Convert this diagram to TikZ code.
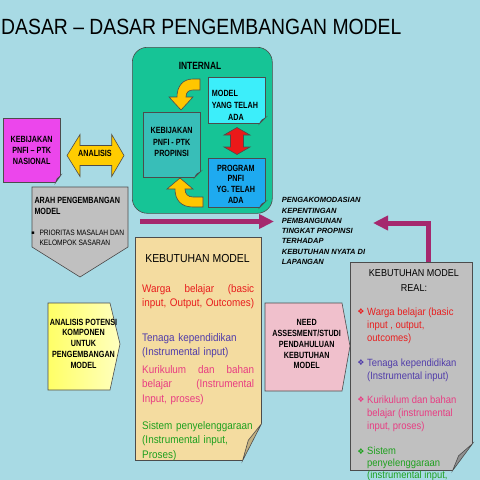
\documentclass[tikz,border=0pt]{standalone}
\usepackage{fontspec}
\setmainfont{Liberation Sans}
\newfontface\titlefont[FakeStretch=0.88]{Liberation Sans}
\newfontface\lblfont[FakeStretch=0.8]{Liberation Sans Bold}
\newfontface\bodyfont[FakeStretch=0.9]{Liberation Sans}
\newfontface\smallfont[FakeStretch=0.85]{Liberation Sans}
\newfontface\itfont{Liberation Sans Bold Italic}
\newfontfamily\symfont{DejaVu Sans}
\usetikzlibrary{arrows.meta,calc}

\definecolor{bgcol}{RGB}{168,218,228}
\definecolor{greenbox}{RGB}{22,196,150}
\definecolor{cyanbox}{RGB}{60,238,250}
\definecolor{tealbox}{RGB}{56,190,184}
\definecolor{bluebox}{RGB}{30,170,240}
\definecolor{magbox}{RGB}{236,70,236}
\definecolor{greybox}{RGB}{192,192,192}
\definecolor{parch}{RGB}{244,220,160}
\definecolor{pinkbox}{RGB}{240,192,204}
\definecolor{gold}{RGB}{255,198,0}
\definecolor{redarrow}{RGB}{235,25,25}
\definecolor{plum}{RGB}{165,40,110}
\definecolor{txtred}{RGB}{232,30,30}
\definecolor{txtblue}{RGB}{80,60,170}
\definecolor{txtpink}{RGB}{232,60,130}
\definecolor{txtgreen}{RGB}{30,160,30}

% folded corner: node, width, height, colour under it, colour of the flap
\newcommand{\foldcorner}[5]{%
  \fill[#4] ($(#1.south east)+(-#2,0)$) -- ($(#1.south east)+(-#2,1)$) -- ($(#1.south east)+(1,1)$)
    -- ($(#1.south east)+(1,-#3)$) -- ($(#1.south east)+(0,-#3)$) -- cycle;
  \filldraw[fill=#5, draw=black!70, line width=0.6pt] ($(#1.south east)+(-#2,0)$)
    -- ($(#1.south east)+(-0.7*#2,-0.55*#3)$) -- ($(#1.south east)+(0,-#3)$) -- cycle;
}

\begin{document}
\begin{tikzpicture}[x=1pt,y=-1pt,
    box/.style={draw=black!70, line width=0.6pt, anchor=north west, inner sep=0pt},
    lbl/.style={font=\lblfont\fontsize{9}{10.8}\selectfont, align=center, inner sep=0pt, anchor=north},
    body/.style={font=\bodyfont\fontsize{11}{14.8}\selectfont, text width=112pt, align=left, inner sep=0pt, anchor=north west},
    realitem/.style={font=\bodyfont\fontsize{10.5}{13.3}\selectfont, align=left, inner sep=0pt, anchor=north west},
    bul/.style={font=\symfont\fontsize{8}{9}\selectfont, inner sep=0pt, anchor=base},
    conn/.style={draw=plum, line width=5pt, -{Triangle[length=15pt,width=14pt]}},
    blockshape/.style={draw=black!70, line width=0.6pt}]

  \useasboundingbox (0,0) rectangle (480,480);
  \clip (0,0) rectangle (480,480);
  \fill[bgcol] (0,0) rectangle (480,480);

  \node[anchor=base west, inner sep=0pt] (title) at (1,34)
    {\titlefont\fontsize{22}{26}\selectfont DASAR – DASAR PENGEMBANGAN MODEL};

  % connectors
  \coordinate (linestart) at (140,221.5);
  \coordinate (linetip)   at (274,221.5);
  \coordinate (realtop)   at (428,262);
  \coordinate (realtip)   at (373,223);
  \draw[conn] (linestart) -- (linetip);
  \draw[conn] (realtop) |- (realtip);

  % boxes
  \begin{scope}[every node/.style={box}]
    \node[fill=greenbox, rounded corners=15pt, minimum width=140pt, minimum height=166pt] (internal) at (132,47) {};
    \node[fill=cyanbox,  minimum width=57pt,  minimum height=46pt]  (model)    at (208,77)  {};
    \node[fill=tealbox,  minimum width=57pt,  minimum height=65pt]  (propinsi) at (143,112) {};
    \node[fill=bluebox,  minimum width=57pt,  minimum height=49pt]  (program)  at (208,158) {};
    \node[fill=magbox,   minimum width=57pt,  minimum height=64pt]  (nasional) at (3,118)   {};
    \node[fill=parch,    minimum width=126pt, minimum height=223pt] (needs)    at (135,237) {};
    \node[fill=greybox,  minimum width=122pt, minimum height=208pt] (real)     at (350,262) {};
  \end{scope}

  \foldcorner{model}{6}{6}{greenbox}{cyanbox!70!black}
  \foldcorner{propinsi}{6}{6}{greenbox}{tealbox!70!black}
  \foldcorner{program}{6}{6}{greenbox}{bluebox!70!black}
  \foldcorner{nasional}{5}{7}{bgcol}{magbox!70!black}
  \foldcorner{needs}{19}{37}{bgcol}{parch!80!black}
  \foldcorner{real}{20}{27}{bgcol}{greybox!75!black}

  % block arrows and pentagons
  \filldraw[blockshape, fill=gold] (200,79) -- (193,79) .. controls (183,79) and (177,86) .. (177,97)
    -- (169,97) -- (181,110) -- (193,97) -- (186,97) .. controls (186,92) and (189,90) .. (193,90)
    -- (200,90) -- cycle;
  \filldraw[blockshape, fill=gold] (203,207) -- (193,207) .. controls (181,207) and (175,200) .. (175,189)
    -- (167,189) -- (180,178) -- (193,189) -- (185,189) .. controls (185,194) and (188,197) .. (193,197)
    -- (203,197) -- cycle;
  \filldraw[blockshape, fill=redarrow] (237,127.5) -- (250,135) -- (243.5,135) -- (243.5,147) -- (250,147)
    -- (237,154.5) -- (224,147) -- (230.5,147) -- (230.5,135) -- (224,135) -- cycle;
  \filldraw[blockshape, fill=gold!90!yellow] (67,155.5) -- (80,134.5) -- (80,145.5) -- (111.7,145.5) -- (111.7,134.5)
    -- (124,155.5) -- (111.7,176.5) -- (111.7,165.5) -- (80,165.5) -- (80,176.5) -- cycle;
  \filldraw[blockshape, fill=greybox] (32,187) -- (128,187) -- (128,247) -- (80,277) -- (32,247) -- cycle;
  \draw[blockshape, left color=yellow!60!white, right color=yellow!25!white]
    (48,303) -- (110,303) -- (120,344) -- (110,390) -- (48,390) -- cycle;
  \filldraw[blockshape, fill=pinkbox] (265,303) -- (342,303) -- (350,346) -- (342,391) -- (265,391) -- cycle;

  % labels
  \node[lbl, font=\lblfont\fontsize{10.5}{12}\selectfont] (internaltxt) at (200,62.5) {INTERNAL};
  \node[lbl, font=\lblfont\fontsize{9}{11.7}\selectfont, align=left, anchor=north west] (modeltxt) at (211.7,90.3)
    {MODEL\\YANG TELAH\\\hspace*{16.3pt}ADA};
  \node[lbl, font=\lblfont\fontsize{9}{11.3}\selectfont] (propinsitxt) at (171.7,127.6) {KEBIJAKAN\\PNFI - PTK\\PROPINSI};
  \node[lbl] (programtxt) at (235.8,164.6) {PROGRAM\\PNFI\\YG. TELAH\\ADA};
  \node[lbl, font=\lblfont\fontsize{9}{11}\selectfont] (nasionaltxt) at (31.7,135.9) {KEBIJAKAN\\PNFI – PTK\\NASIONAL};
  \node[lbl] (analisis) at (95,150.3) {ANALISIS};
  \node[lbl, align=left, anchor=north west] (arah) at (34.3,196.9) {ARAH PENGEMBANGAN\\MODEL};
  \node[font=\symfont\fontsize{5}{6}\selectfont, inner sep=0pt] (arahbul) at (33,233) {▪};
  \node[font=\smallfont\fontsize{7.8}{10}\selectfont, align=left, inner sep=0pt, anchor=north west] (prioritas)
    at (39.3,229.9) {PRIORITAS MASALAH DAN\\KELOMPOK SASARAN};
  \node[font=\itfont\fontsize{7.5}{10.3}\selectfont, align=left, inner sep=0pt, anchor=north west] (akomodasi)
    at (281.7,197.3) {PENGAKOMODASIAN\\KEPENTINGAN\\PEMBANGUNAN\\TINGKAT PROPINSI\\TERHADAP\\KEBUTUHAN NYATA DI\\LAPANGAN};
  \node[lbl] (potensi) at (83.5,318.6) {ANALISIS POTENSI\\KOMPONEN\\UNTUK\\PENGEMBANGAN\\MODEL};
  \node[lbl, font=\lblfont\fontsize{9}{10.7}\selectfont] (assesment) at (306.7,319.6)
    {NEED\\ASSESMENT/STUDI\\PENDAHULUAN\\KEBUTUHAN\\MODEL};

  % kebutuhan model
  \node[font=\bodyfont\fontsize{11.6}{14}\selectfont, inner sep=0pt, anchor=north] (needstitle) at (197.5,254) {KEBUTUHAN MODEL};
  \node[body, text=txtred]   (needs1) at (142,284) {Warga\hfill belajar\hfill (basic\\input,\hfill Output,\hfill Outcomes)};
  \node[body, text=txtblue]  (needs2) at (142,333) {Tenaga kependidikan\\(Instrumental input)};
  \node[body, text=txtpink]  (needs3) at (142,365) {Kurikulum\hfill dan\hfill bahan\\belajar\hfill (Instrumental\\Input, proses)};
  \node[body, text=txtgreen] (needs4) at (142,421) {Sistem penyelenggaraan\\(Instrumental input,\\Proses)};

  % kebutuhan model real
  \node[font=\bodyfont\fontsize{10}{15}\selectfont, align=center, inner sep=0pt, anchor=north] (realtitle) at (414,269.8)
    {KEBUTUHAN MODEL\\REAL:};
  \node[bul, text=txtred]   (bul1) at (361,314)   {❖};
  \node[bul, text=txtblue]  (bul2) at (361,365)   {❖};
  \node[bul, text=txtpink]  (bul3) at (361,402)   {❖};
  \node[bul, text=txtgreen] (bul4) at (361,454.5) {❖};
  \node[realitem, text=txtred]   (real1) at (367,307.5) {Warga belajar (basic\\input , output,\\outcomes)};
  \node[realitem, text=txtblue]  (real2) at (367,358.5) {Tenaga kependidikan\\(Instrumental input)};
  \node[realitem, text=txtpink]  (real3) at (367,395.5) {Kurikulum dan bahan\\belajar (instrumental\\input, proses)};
  \node[realitem, text=txtgreen, font=\bodyfont\fontsize{10.5}{12}\selectfont] (real4) at (367,447)
    {Sistem\\penyelenggaraan\\(instrumental input,};

\end{tikzpicture}
\end{document}
